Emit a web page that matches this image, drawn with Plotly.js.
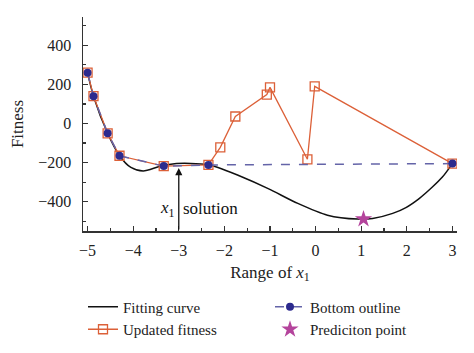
<!DOCTYPE html>
<html>
<head>
<meta charset="utf-8">
<script src="https://cdn.plot.ly/plotly-3.0.1.min.js"></script>
<style>html,body{margin:0;padding:0;background:#fff;}#chart{width:474px;height:353px;}</style>
</head>
<body>
<div id="chart"></div>
<script>
// Fitting curve
const curveX = [-5, -4.87, -4.56, -4.3, -4.05, -3.78, -3.41, -3.05, -2.74, -2.38, -2.14, -1.7, -1.04, -0.39, 0.26, 0.92, 1.25, 1.69, 1.98, 2.27, 2.56, 2.78, 3.0];
const curveY = [260, 140, -50, -165, -225, -243, -219, -205, -204, -210, -225, -265, -333, -409, -469, -489, -486, -460, -430, -384, -325, -274, -205];

// Updated fitness (orange open squares)
const updX = [-5, -4.87, -4.56, -4.3, -3.33, -2.35, -2.09, -1.76, -1.07, -1.0, -0.18, -0.02, 3.0];
const updY = [260, 140, -50, -165, -218, -212, -122, 36, 148, 185, -183, 190, -205];

// Bottom outline (blue dots, dashed line)
const botX = [-5, -4.87, -4.56, -4.3, -3.33, -2.35, 3.0];
const botY = [260, 140, -50, -165, -218, -212, -205];

// Prediction point
const predX = [1.05];
const predY = [-489];

const xTicks = [-5, -4, -3, -2, -1, 0, 1, 2, 3];
const yTicks = [-400, -200, 0, 200, 400];

const FONT = "Liberation Serif, Times New Roman, serif";
const ORANGE = "#dc6038";
const NAVY = "#2c2a8e";

const traces = [
  {x: curveX, y: curveY, mode: "lines", name: "Fitting curve",
   line: {color: "#111", width: 1.5, shape: "spline", smoothing: 0.8}, legendrank: 1},
  {x: updX, y: updY, mode: "lines+markers", name: "Updated fitness",
   line: {color: ORANGE, width: 1.3},
   marker: {symbol: "square-open", size: 9, color: ORANGE, line: {width: 1.3, color: ORANGE}}, legendrank: 3},
  {x: botX, y: botY, mode: "lines+markers", name: "Bottom outline",
   line: {color: "#6464a8", width: 1.5, dash: "dash"},
   marker: {symbol: "circle", size: 8, color: NAVY}, legendrank: 2},
  {x: predX, y: predY, mode: "markers", name: "Prediciton point",
   marker: {symbol: "star", size: 13, color: "#b4449c"}, legendrank: 4}
];

const layout = {
  width: 474, height: 353,
  margin: {l: 83, r: 17, t: 17, b: 122},
  paper_bgcolor: "#fff", plot_bgcolor: "#fff",
  font: {family: FONT, size: 16, color: "#222"},
  showlegend: true,
  legend: {orientation: "h", x: 0.0, xanchor: "left", yref: "container", y: 0.177, yanchor: "top",
           entrywidth: 0.5, entrywidthmode: "fraction", itemwidth: 30,
           font: {family: FONT, size: 15, color: "#222"}, traceorder: "normal",
           tracegroupgap: 0},
  xaxis: {
    range: [-5.1, 3.1], tickvals: xTicks, ticks: "inside", ticklen: 5, tickwidth: 1.2,
    tickcolor: "#333", showline: true, linecolor: "#333", linewidth: 1.5,
    showgrid: false, zeroline: false, ticklabelstandoff: 4,
    tickfont: {size: 16},
    minor: {dtick: 0.5, ticks: "inside", ticklen: 3, tickcolor: "#333", tickwidth: 1.2, showgrid: false},
    title: {text: "Range of <i>x</i><sub>1</sub>", font: {size: 17}, standoff: 8}
  },
  yaxis: {
    range: [-550, 545], tickvals: yTicks, ticks: "inside", ticklen: 5, tickwidth: 1.2,
    tickcolor: "#333", showline: true, linecolor: "#333", linewidth: 1.5,
    showgrid: false, zeroline: false, ticklabelstandoff: 7,
    tickfont: {size: 16},
    minor: {dtick: 100, ticks: "inside", ticklen: 3, tickcolor: "#333", tickwidth: 1.2, showgrid: false},
    title: {text: "Fitness", font: {size: 17}, standoff: 10}
  },
  annotations: [
    {x: -3.0, y: -228, ax: -3.0, ay: -550, axref: "x", ayref: "y", xref: "x", yref: "y",
     showarrow: true, arrowhead: 2, arrowsize: 1.1, arrowwidth: 1.3, arrowcolor: "#111", text: ""},
    {x: -3.04, y: -435, xref: "x", yref: "y", xanchor: "right", yanchor: "middle", showarrow: false,
     text: "<i>x</i><sub>1</sub>", font: {family: FONT, size: 17, color: "#111"}},
    {x: -2.96, y: -435, xref: "x", yref: "y", xanchor: "left", yanchor: "middle", showarrow: false,
     text: "solution", font: {family: FONT, size: 17, color: "#111"}}
  ]
};

Plotly.newPlot("chart", traces, layout, {displayModeBar: false, staticPlot: true});
</script>
</body>
</html>
